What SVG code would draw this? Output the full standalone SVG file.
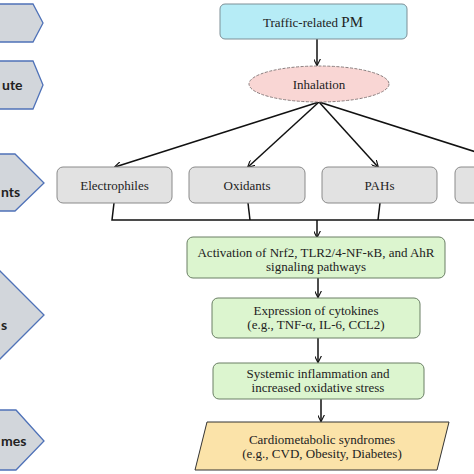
<svg xmlns="http://www.w3.org/2000/svg" width="474" height="474" viewBox="0 0 474 474">
<defs>
<marker id="ah" viewBox="0 0 10 10" refX="9" refY="5" markerWidth="7" markerHeight="7" orient="auto" markerUnits="userSpaceOnUse">
<path d="M0,0 L10,5 L0,10" fill="none" stroke="#111" stroke-width="1.6"/>
</marker>
<style>
.pent{fill:#d2d6db;stroke:#4f72b8;stroke-width:1.3}
.lab{font-family:"Lato","Open Sans",sans-serif;font-weight:bold;font-size:14px;fill:#222}
.t{font-family:"Liberation Serif","DejaVu Serif",serif;font-size:13px;fill:#222;text-anchor:middle}
.grey{fill:#e2e2e2;stroke:#8a8a8a;stroke-width:1}
.green{fill:#dcf5cf;stroke:#6a7f64;stroke-width:1}
.ln{fill:none;stroke:#111;stroke-width:1.5}
</style>
</defs>
<rect width="474" height="474" fill="#fff"/>
<g id="side">
<polygon class="pent" points="-5,4 33,4 43,23 33,42 -5,42"/>
<polygon class="pent" points="-5,61 33,61 43,85 33,109 -5,109"/>
<text class="lab" x="2" y="90">ute</text>
<polygon class="pent" points="-5,154 15,154 44,183 15,211 -5,211"/>
<text class="lab" x="1" y="197">nts</text>
<polygon class="pent" points="-5,268 -3,268 44,315 -3,362 -5,362"/>
<text class="lab" x="1" y="330">s</text>
<polygon class="pent" points="-5,410 16,410 44,441 16,470 -5,470"/>
<text class="lab" x="1" y="446">mes</text>
</g>
<g id="connectors">
<line class="ln" x1="317" y1="39" x2="317" y2="65" marker-end="url(#ah)"/>
<line class="ln" x1="319" y1="102" x2="115" y2="167" marker-end="url(#ah)"/>
<line class="ln" x1="319" y1="102" x2="248" y2="167" marker-end="url(#ah)"/>
<line class="ln" x1="319" y1="102" x2="378" y2="167" marker-end="url(#ah)"/>
<line class="ln" x1="319" y1="102" x2="523" y2="167"/>
<polyline class="ln" points="114,203 112,220 480,220"/>
<line class="ln" x1="248" y1="203" x2="250" y2="220"/>
<line class="ln" x1="380" y1="203" x2="378" y2="220"/>
<line class="ln" x1="317" y1="220" x2="317" y2="237" marker-end="url(#ah)"/>
<line class="ln" x1="318" y1="278" x2="318" y2="297" marker-end="url(#ah)"/>
<line class="ln" x1="318" y1="338" x2="318" y2="362" marker-end="url(#ah)"/>
<line class="ln" x1="321" y1="399" x2="321" y2="421" marker-end="url(#ah)"/>
</g>
<g id="pm">
<rect x="220" y="4" width="187" height="35" rx="5" fill="#b6ecf6" stroke="#7d8f96" stroke-width="1"/>
<text class="t" x="313" y="27" font-size="13"><tspan>Traffic-related </tspan><tspan font-size="15">PM</tspan></text>
</g>
<g id="inhalation">
<ellipse cx="319" cy="84" rx="70" ry="18" fill="#f9d6d4" stroke="#8a7f7f" stroke-width="1" stroke-dasharray="3,1.5"/>
<text class="t" x="319" y="88.5">Inhalation</text>
</g>
<g id="electrophiles">
<rect class="grey" x="57" y="167" width="115" height="36" rx="6"/>
<text class="t" x="114.5" y="189.5">Electrophiles</text>
</g>
<g id="oxidants">
<rect class="grey" x="189" y="167" width="116" height="36" rx="6"/>
<text class="t" x="247" y="189.5">Oxidants</text>
</g>
<g id="pahs">
<rect class="grey" x="322" y="167" width="115" height="36" rx="6"/>
<text class="t" x="379.5" y="189.5">PAHs</text>
</g>
<g id="fourth">
<rect class="grey" x="455" y="167" width="115" height="36" rx="6"/>
</g>
<g id="activation">
<rect class="green" x="187" y="237" width="258" height="41" rx="6"/>
<text class="t" x="316" y="257">Activation of Nrf2, TLR2/4-NF-κB, and AhR</text>
<text class="t" x="316" y="271">signaling pathways</text>
</g>
<g id="cytokines">
<rect class="green" x="212" y="298" width="208" height="40" rx="6"/>
<text class="t" x="316" y="315">Expression of cytokines</text>
<text class="t" x="316" y="329">(e.g., TNF-α, IL-6, CCL2)</text>
</g>
<g id="systemic">
<rect class="green" x="213" y="363" width="211" height="36" rx="6"/>
<text class="t" x="318" y="378">Systemic inflammation and</text>
<text class="t" x="318" y="392">increased oxidative stress</text>
</g>
<g id="cardio">
<polygon points="207,422 449,422 437,470 195,470" fill="#fbe3a9" stroke="#333" stroke-width="1"/>
<text class="t" x="322" y="444">Cardiometabolic syndromes</text>
<text class="t" x="322" y="458">(e.g., CVD, Obesity, Diabetes)</text>
</g>
</svg>
